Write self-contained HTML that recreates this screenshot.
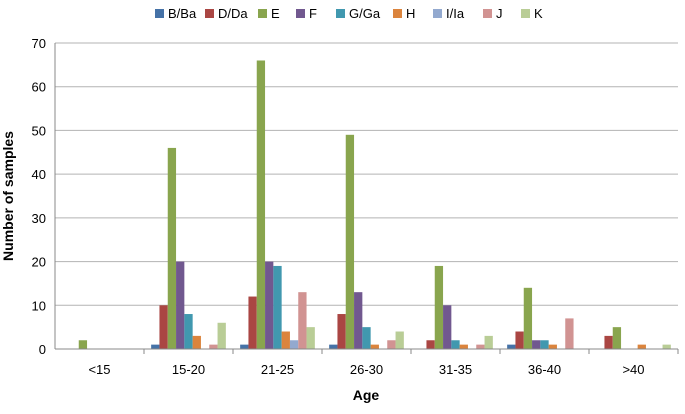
<!DOCTYPE html>
<html><head><meta charset="utf-8"><style>
body{margin:0;background:#fff;font-family:"Liberation Sans",sans-serif;}
svg text{font-family:"Liberation Sans",sans-serif;}
</style></head><body>
<svg id="chart" width="685" height="409">
<g id="grid"></g><g id="bars"></g><g id="axes"></g><g id="legend"></g>
<text x="366" y="400" text-anchor="middle" font-size="14" font-weight="bold" fill="#000">Age</text>
<text transform="translate(13,196) rotate(-90)" text-anchor="middle" font-size="14" font-weight="bold" fill="#000">Number of samples</text>
</svg>
<script>
const categories=["<15","15-20","21-25","26-30","31-35","36-40",">40"];
const seriesNames=["B/Ba","D/Da","E","F","G/Ga","H","I/Ia","J","K"];
const colors=["#4572A7","#AA4643","#89A54E","#71588F","#4198AF","#DB843D","#93A9CF","#D19392","#B9CD96"];
const sB=[0,1,1,1,0,1,0];
const sD=[0,10,12,8,2,4,3];
const sE=[2,46,66,49,19,14,5];
const sF=[0,20,20,13,10,2,0];
const sG=[0,8,19,5,2,2,0];
const sH=[0,3,4,1,1,1,1];
const sI=[0,0,2,0,0,0,0];
const sJ=[0,1,13,2,1,7,0];
const sK=[0,6,5,4,3,0,1];
const yTicks=[0,10,20,30,40,50,60,70];
const series=[sB,sD,sE,sF,sG,sH,sI,sJ,sK];
const NS="http://www.w3.org/2000/svg";
const x0=55,x1=678,y0=349,y1=43,ymax=70;
const cw=(x1-x0)/categories.length, bw=8.3;
const yS=v=>y0-(v/ymax)*(y0-y1);
function mk(t,a,p){const e=document.createElementNS(NS,t);for(const k in a)e.setAttribute(k,a[k]);p.appendChild(e);return e;}
const grid=document.getElementById('grid'),bars=document.getElementById('bars'),axes=document.getElementById('axes'),leg=document.getElementById('legend');
yTicks.forEach(t=>{
 const y=yS(t);
 if(t>0){const l=mk('line',{x1:x0,x2:x1,y1:y,y2:y,stroke:'#b3b3b3','stroke-width':1},grid);
 
 }
 const tx=mk('text',{x:x0-9,y:y+5,'text-anchor':'end','font-size':13,fill:'#000'},axes);tx.textContent=t;
 
 
});
mk('line',{x1:x0,x2:x0,y1:y1,y2:y0,stroke:'#888'},axes);
mk('line',{x1:x0,x2:x1,y1:y0,y2:y0,stroke:'#888'},axes);
categories.forEach((c,i)=>{
 const xc=x0+cw*(i+0.5);
 mk('line',{x1:x0+cw*(i+1),x2:x0+cw*(i+1),y1:y0,y2:y0+5,stroke:'#888'},axes);
 const tx=mk('text',{x:xc,y:374,'text-anchor':'middle','font-size':13,fill:'#000'},axes);tx.textContent=c;
 
 
 series.forEach((s,j)=>{
  const v=s[i]; if(!v) return;
  const x=xc-(series.length*bw)/2+j*bw;
  const r=mk('rect',{x:x,y:yS(v),width:bw,height:y0-yS(v),fill:colors[j]},bars);
  
  
 });
});
const lx=[155,205,258,296,336,393,433,483,521];
seriesNames.forEach((n,j)=>{
 const g=mk('g',{},leg);
 
 
 mk('rect',{x:lx[j],y:9,width:9,height:9,fill:colors[j]},g);
 const t=mk('text',{x:lx[j]+13,y:18,'font-size':13,fill:'#000'},g);t.textContent=n;
});
</script>
</body></html>
